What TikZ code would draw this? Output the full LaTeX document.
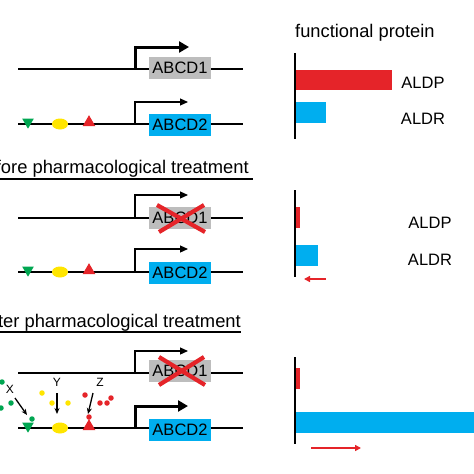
\documentclass[tikz,border=0pt]{standalone}
\usepackage{fontspec}
\setmainfont{Liberation Sans}
\usetikzlibrary{arrows.meta,shapes.geometric}
\definecolor{cred}{HTML}{E52429}
\definecolor{cblue}{HTML}{00AEEF}
\definecolor{cgray}{HTML}{BDBDBD}
\definecolor{cgreen}{HTML}{00A651}
\definecolor{cyellow}{HTML}{FFE500}
\tikzset{
  dna/.style={line width=1.6pt},
  genebox/.style={minimum width=62pt, minimum height=22pt, inner sep=0pt, font=\fontsize{16.5}{16.5}\selectfont},
  prom/.style={line width=1.2pt, -{Triangle[length=8pt,width=7pt]}},
  promthick/.style={line width=3pt, -{Triangle[length=10pt,width=11pt]}},
  crossline/.style={cred, line width=4.2pt},
  axisline/.style={line width=1.6pt},
  barlbl/.style={font=\fontsize{16.5}{16.5}\selectfont, anchor=base},
  heading/.style={font=\fontsize{18.35}{18.35}\selectfont, inner sep=0pt},
  uline/.style={line width=1.1pt},
  redarrow/.style={cred, line width=2pt, -{Triangle[length=6pt,width=6pt]}},
  blackarrow/.style={line width=1.3pt, -{Stealth[length=6pt,width=5pt]}},
  dot/.style={circle, inner sep=0pt, minimum size=5.5pt},
  tridown/.style={isosceles triangle, isosceles triangle apex angle=60, shape border rotate=-90, fill=cgreen, inner sep=0pt, minimum height=10pt, minimum width=11pt},
  triup/.style={isosceles triangle, isosceles triangle apex angle=60, shape border rotate=90, fill=cred, inner sep=0pt, minimum height=11pt, minimum width=12pt},
  yell/.style={ellipse, fill=cyellow, inner sep=0pt, minimum width=16pt, minimum height=11pt},
  lbl/.style={font=\fontsize{12}{12}\selectfont, inner sep=0pt}
}
\begin{document}
\begin{tikzpicture}[x=1pt,y=-1pt]
\useasboundingbox (0,0) rectangle (474,474);
\clip (0,0) rectangle (474,474);

% ---------- row 1 : ABCD1 normal
\coordinate (s1) at (18,69); \coordinate (e1) at (243,69);
\draw[dna] (s1) -- (e1);
\node[genebox, fill=cgray] (g1) at (180,68) {ABCD1};
\coordinate (p1) at (135,69); \coordinate (t1) at (189,47);
\draw[promthick] (p1) |- (t1);

% ---------- row 2 : ABCD2 normal
\coordinate (s2) at (18,124); \coordinate (e2) at (243,124);
\draw[dna] (s2) -- (e2);
\node[genebox, fill=cblue] (g2) at (180,124.5) {ABCD2};
\coordinate (p2) at (135,124); \coordinate (t2) at (188,102);
\draw[prom] (p2) |- (t2);
\node[tridown] (a2) at (28,122) {};
\node[yell] (b2) at (60,124) {};
\node[triup] (c2) at (89,122.5) {};

% ---------- heading before
\node[heading, anchor=base east] (hb) at (249,173) {Before pharmacological treatment};
\coordinate (ub1) at (0,179); \coordinate (ub2) at (253,179);
\draw[uline] (ub1) -- (ub2);

% ---------- row 3 : ABCD1 mutated
\coordinate (s3) at (18,218); \coordinate (e3) at (243,218);
\draw[dna] (s3) -- (e3);
\node[genebox, fill=cgray] (g3) at (180,218) {ABCD1};
\coordinate (p3) at (135,218); \coordinate (t3) at (188,195);
\draw[prom] (p3) |- (t3);
\coordinate (x3a) at (157,205); \coordinate (x3b) at (205,232);
\coordinate (x3c) at (159,232); \coordinate (x3d) at (204,205);
\draw[crossline] (x3a) -- (x3b);
\draw[crossline] (x3c) -- (x3d);

% ---------- row 4 : ABCD2
\coordinate (s4) at (18,272); \coordinate (e4) at (243,272);
\draw[dna] (s4) -- (e4);
\node[genebox, fill=cblue] (g4) at (180,273) {ABCD2};
\coordinate (p4) at (135,272); \coordinate (t4) at (188,249);
\draw[prom] (p4) |- (t4);
\node[tridown] (a4) at (28,270) {};
\node[yell] (b4) at (60,272) {};
\node[triup] (c4) at (89,270.5) {};

% ---------- heading after
\node[heading, anchor=base east] (ha) at (241,327) {After pharmacological treatment};
\coordinate (ua1) at (0,332); \coordinate (ua2) at (241,332);
\draw[uline] (ua1) -- (ua2);

% ---------- row 5 : ABCD1 mutated
\coordinate (s5) at (18,373); \coordinate (e5) at (243,373);
\draw[dna] (s5) -- (e5);
\node[genebox, fill=cgray] (g5) at (180,371) {ABCD1};
\coordinate (p5) at (135,373); \coordinate (t5) at (188,351);
\draw[prom] (p5) |- (t5);
\coordinate (x5a) at (159,357); \coordinate (x5b) at (205,385);
\coordinate (x5c) at (159,385); \coordinate (x5d) at (204,357);
\draw[crossline] (x5a) -- (x5b);
\draw[crossline] (x5c) -- (x5d);

% ---------- row 6 : ABCD2 induced
\coordinate (s6) at (18,428); \coordinate (e6) at (243,428);
\draw[dna] (s6) -- (e6);
\node[genebox, fill=cblue] (g6) at (180,430) {ABCD2};
\coordinate (p6) at (135,428); \coordinate (t6) at (188,406);
\draw[promthick] (p6) |- (t6);
\node[tridown] (a6) at (28,426) {};
\node[yell] (b6) at (60,428) {};
\node[triup] (c6) at (89,426.5) {};

% drugs
\node[lbl] (lx) at (10,389) {X};
\node[lbl] (ly) at (57,382) {Y};
\node[lbl] (lz) at (100,382) {Z};
\coordinate (xa) at (15,398); \coordinate (xb) at (27,415);
\coordinate (ya) at (57,393); \coordinate (yb) at (57,414);
\coordinate (za) at (93,393); \coordinate (zb) at (88,414);
\draw[blackarrow] (xa) -- (xb);
\draw[blackarrow] (ya) -- (yb);
\draw[blackarrow] (za) -- (zb);
\foreach \p [count=\i] in {(2,382),(1,408),(11,403),(32,419)} \node[dot, fill=cgreen] (dg\i) at \p {};
\foreach \p [count=\i] in {(42,393),(52,403),(68,403)} \node[dot, fill=cyellow] (dy\i) at \p {};
\foreach \p [count=\i] in {(85,395),(100,403),(107,403),(111,398),(89,417)} \node[dot, fill=cred] (dr\i) at \p {};

% ---------- bar chart 1
\node[heading, anchor=base west, font=\fontsize{18.3}{18.3}\selectfont] (fp) at (295,37) {functional protein};
\coordinate (ax1a) at (295,53); \coordinate (ax1b) at (295,139);
\fill[cred] (295,70) rectangle (392,90);
\fill[cblue] (295,102) rectangle (326,123);
\draw[axisline] (ax1a) -- (ax1b);
\node[barlbl] (l1a) at (423,88) {ALDP};
\node[barlbl] (l1b) at (423,124) {ALDR};

% ---------- bar chart 2
\coordinate (ax2a) at (295,190); \coordinate (ax2b) at (295,277);
\fill[cred] (295,207) rectangle (300,228);
\fill[cblue] (295,245) rectangle (318,266);
\draw[axisline] (ax2a) -- (ax2b);
\node[barlbl] (l2a) at (430,228) {ALDP};
\node[barlbl] (l2b) at (430,265) {ALDR};
\coordinate (r2a) at (326,279); \coordinate (r2b) at (304,279);
\draw[redarrow] (r2a) -- (r2b);

% ---------- bar chart 3
\coordinate (ax3a) at (295,357); \coordinate (ax3b) at (295,444);
\fill[cred] (295,368) rectangle (300,389);
\fill[cblue] (295,412) rectangle (480,433);
\draw[axisline] (ax3a) -- (ax3b);
\coordinate (r3a) at (311,448); \coordinate (r3b) at (361,448);
\draw[redarrow] (r3a) -- (r3b);
\end{tikzpicture}
\end{document}
